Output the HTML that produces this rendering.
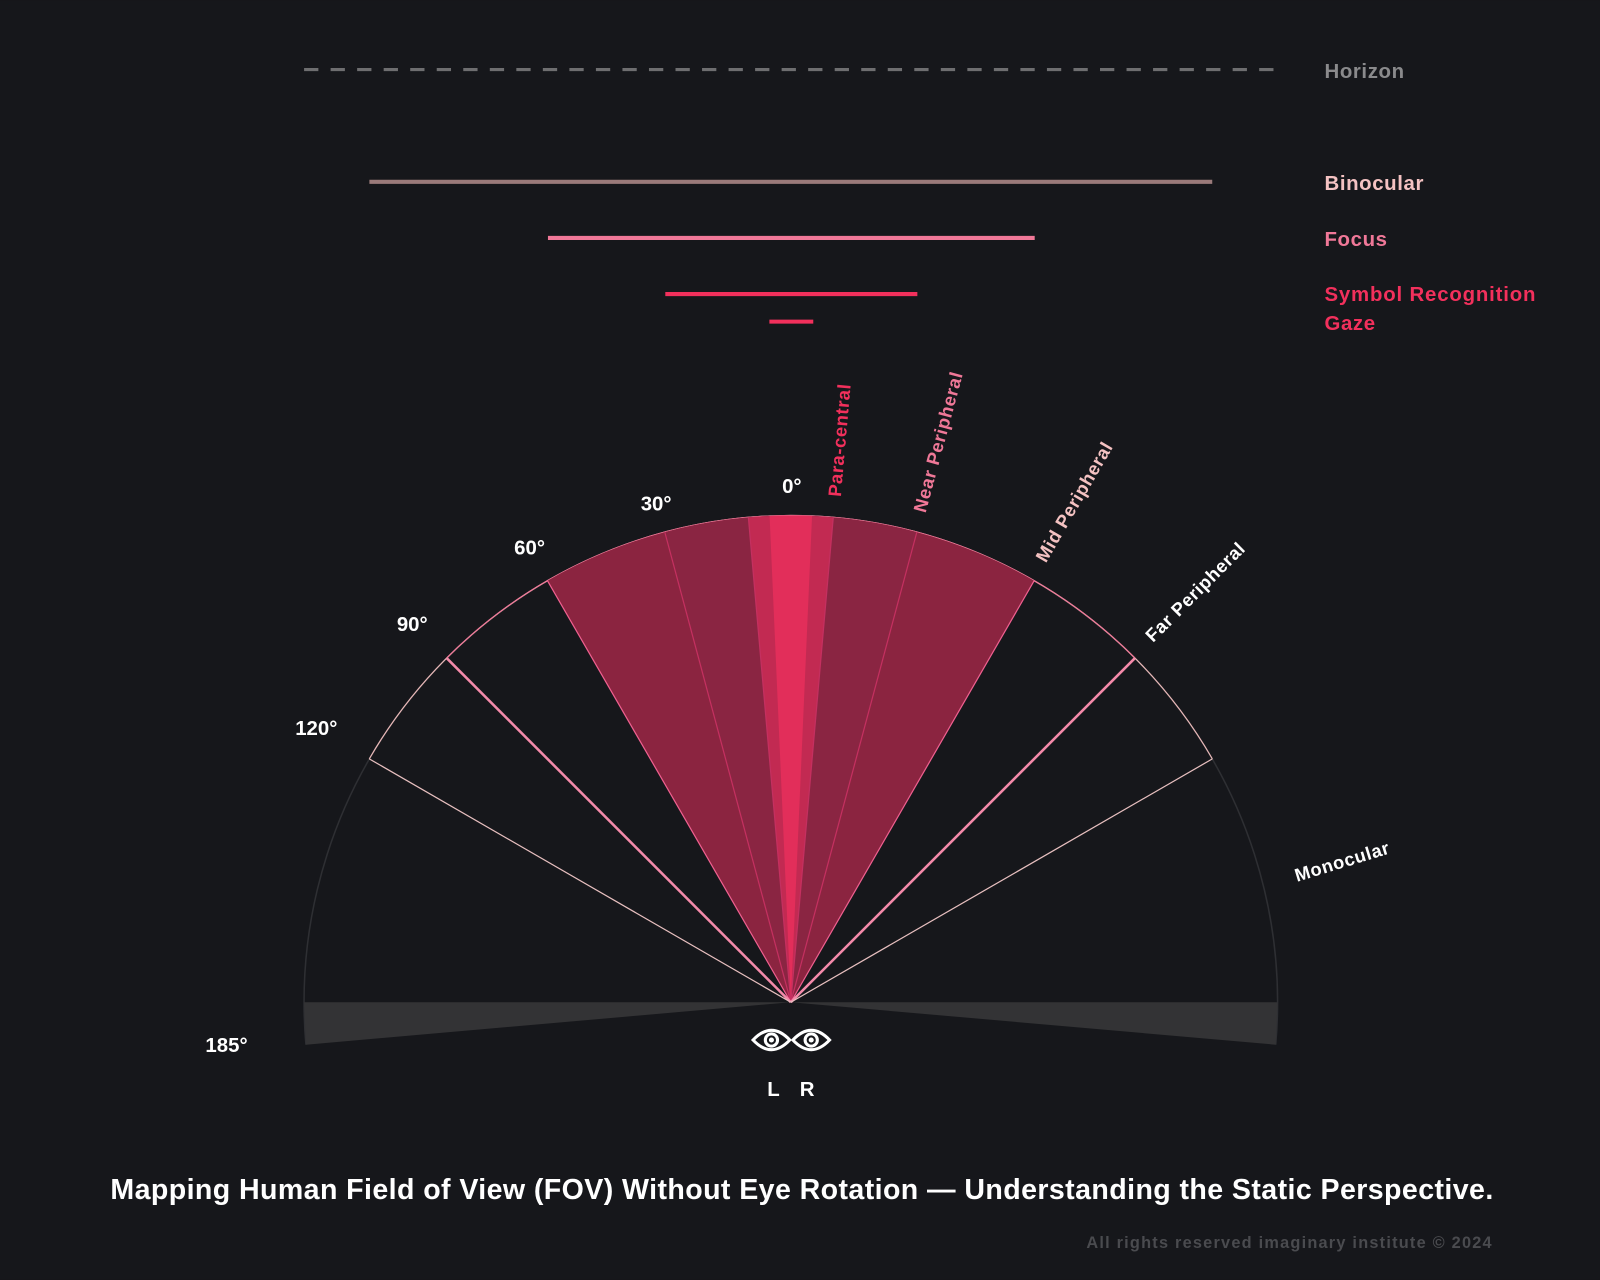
<!DOCTYPE html>
<html><head><meta charset="utf-8"><style>
html,body{margin:0;padding:0;background:#16171b;}
svg{display:block}
text{font-family:"Liberation Sans","DejaVu Sans",sans-serif;font-weight:bold}
</style></head><body>
<svg width="1600" height="1280" viewBox="0 0 1568 1254" xmlns="http://www.w3.org/2000/svg">
<rect width="1568" height="1254" fill="#16171b"/>
<!-- legend -->
<line x1="298" y1="68" x2="1252" y2="68" stroke="#6e6e70" stroke-width="3" stroke-dasharray="14,12"/>
<text x="1298" y="76" fill="#8a8a8c" font-size="20" letter-spacing="0.6">Horizon</text>
<line x1="362" y1="178" x2="1188" y2="178" stroke="#9a7a7a" stroke-width="4"/>
<text x="1298" y="186" fill="#f4c2c2" font-size="20" letter-spacing="0.6">Binocular</text>
<line x1="537" y1="233" x2="1014" y2="233" stroke="#f07898" stroke-width="4"/>
<text x="1298" y="241" fill="#f07898" font-size="20" letter-spacing="0.6">Focus</text>
<line x1="652" y1="288" x2="899" y2="288" stroke="#f2305c" stroke-width="4"/>
<text x="1298" y="295" fill="#f2305c" font-size="20" letter-spacing="0.8">Symbol Recognition</text>
<line x1="754" y1="315" x2="797" y2="315" stroke="#f2305c" stroke-width="4"/>
<text x="1298" y="323" fill="#f2305c" font-size="20" letter-spacing="0.6">Gaze</text>

<!-- outer arc -->
<path d="M299.8,1023.6 A477,477 0 1 1 1250.2,1023.6" fill="none" stroke="#2e2f33" stroke-width="1.5"/>
<path d="M361.9,743.5 A477,477 0 0 1 1188.1,743.5" fill="none" stroke="#e8b8b8" stroke-width="1.2"/>
<path d="M437.7,644.7 A477,477 0 0 1 1112.3,644.7" fill="none" stroke="#f07898" stroke-width="1.2"/>
<!-- gray bottom wedges -->
<path d="M775,982 L298,982 L299.8,1023.6 Z" fill="#333335"/>
<path d="M775,982 L1252,982 L1250.2,1023.6 Z" fill="#333335"/>
<!-- wedges -->
<path d="M775,982 L536.5,568.9 A477,477 0 0 1 1013.5,568.9 Z" fill="#8b2440"/>
<path d="M775,982 L651.5,521.3 A477,477 0 0 1 898.5,521.3 Z" fill="#8a2542"/>
<path d="M775,982 L733.4,506.8 A477,477 0 0 1 816.6,506.8 Z" fill="#c22a52"/>
<path d="M775,982 L754.2,505.5 A477,477 0 0 1 795.8,505.5 Z" fill="#e22e5a"/>
<!-- radial lines -->
<g stroke-width="1.2">
<line x1="775" y1="982" x2="733.4" y2="506.8" stroke="#c43060"/>
<line x1="775" y1="982" x2="816.6" y2="506.8" stroke="#c43060"/>
<line x1="775" y1="982" x2="651.5" y2="521.3" stroke="#c43060"/>
<line x1="775" y1="982" x2="898.5" y2="521.3" stroke="#c43060"/>
<line x1="775" y1="982" x2="536.5" y2="568.9" stroke="#f06090"/>
<line x1="775" y1="982" x2="1013.5" y2="568.9" stroke="#f06090"/>
<line x1="775" y1="982" x2="437.7" y2="644.7" stroke="#f48aaa" stroke-width="2.5"/>
<line x1="775" y1="982" x2="1112.3" y2="644.7" stroke="#f48aaa" stroke-width="2.5"/>
<line x1="775" y1="982" x2="361.9" y2="743.5" stroke="#e8c0c0"/>
<line x1="775" y1="982" x2="1188.1" y2="743.5" stroke="#e8c0c0"/>
</g>
<!-- degree labels -->
<g fill="#ffffff" font-size="20" text-anchor="middle">
<text x="776" y="483">0°</text>
<text x="643" y="500">30°</text>
<text x="519" y="543">60°</text>
<text x="404" y="618">90°</text>
<text x="310" y="720">120°</text>
<text x="222" y="1031">185°</text>
</g>
<!-- zone labels -->
<g font-size="18" letter-spacing="0.6">
<text transform="translate(824,487) rotate(-85)" fill="#f2305c">Para-central</text>
<text transform="translate(907,503) rotate(-75)" fill="#f07898">Near Peripheral</text>
<text transform="translate(1025,552) rotate(-60)" fill="#f4c2c2">Mid Peripheral</text>
<text transform="translate(1130,630) rotate(-45)" fill="#ffffff">Far Peripheral</text>
<text transform="translate(1271,864) rotate(-17)" fill="#ffffff">Monocular</text>
</g>
<!-- eyes -->
<g fill="none" stroke="#fff" stroke-width="3">
<path d="M738,1019 Q756,1000 774,1019 Q756,1038 738,1019 Z"/>
<path d="M777,1019 Q795,1000 813,1019 Q795,1038 777,1019 Z"/>
<circle cx="756" cy="1019" r="6"/>
<circle cx="795" cy="1019" r="6"/>
</g>
<circle cx="756" cy="1019" r="2.5" fill="#fff"/>
<circle cx="795" cy="1019" r="2.5" fill="#fff"/>
<text x="758" y="1074" fill="#fff" font-size="20" text-anchor="middle">L</text>
<text x="791" y="1074" fill="#fff" font-size="20" text-anchor="middle">R</text>
<!-- title -->
<text x="786" y="1175" fill="#ffffff" font-size="28" letter-spacing="0.4" text-anchor="middle">Mapping Human Field of View (FOV) Without Eye Rotation — Understanding the Static Perspective.</text>
<text x="1463" y="1223" fill="#4a4b4f" font-size="16" letter-spacing="1.2" text-anchor="end">All rights reserved imaginary institute © 2024</text>
</svg>
</body></html>
